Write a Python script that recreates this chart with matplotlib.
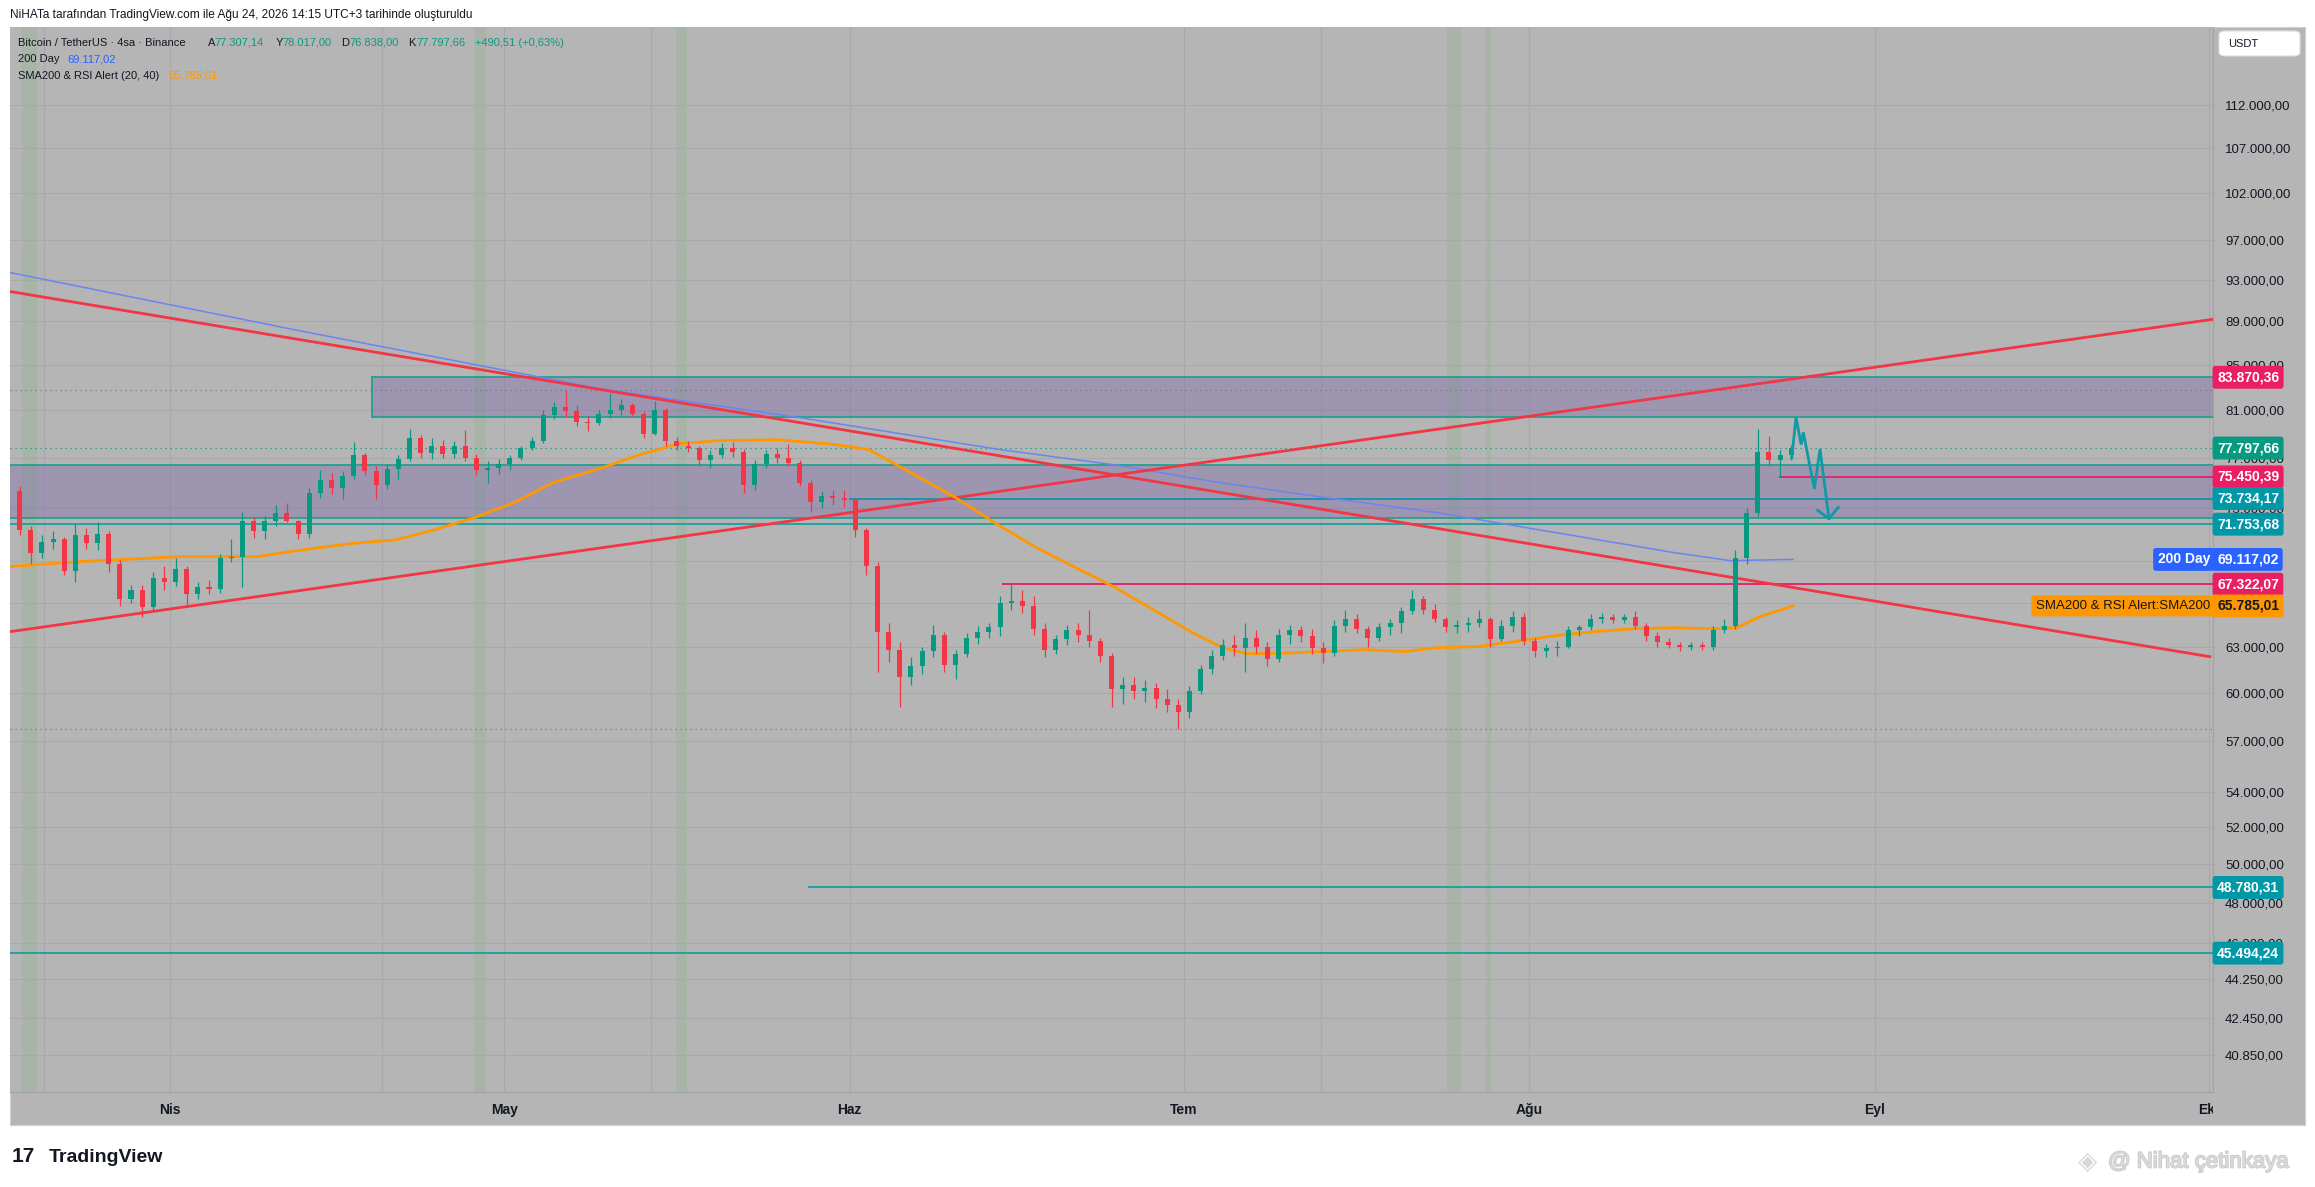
import matplotlib
matplotlib.use("Agg")
import matplotlib.pyplot as plt
import matplotlib.dates as mdates
import matplotlib.patheffects as pe
from matplotlib.patches import Rectangle, FancyBboxPatch
from matplotlib.ticker import FixedLocator, FuncFormatter, NullLocator
from matplotlib.transforms import blended_transform_factory
import numpy as np

plt.rcParams['font.family'] = ['Liberation Sans', 'DejaVu Sans']

# BTC/USDT daily candles, 18 Mar - 24 Aug 2026
first_day = "2026-03-18"
opens = [74300, 71300, 69600, 70400, 70600, 68300, 70900, 70300, 71000, 68800,
         66300, 66900, 65700, 67800, 67500, 68400, 66600, 67100, 67000, 69200,
         69300, 72000, 71200, 72000, 72600, 72000, 71000, 74200, 75200, 74600,
         75500, 77200, 75900, 74800, 76100, 76900, 78600, 77400, 78000, 77300,
         78000, 77000, 76000, 76200, 76500, 77000, 77800, 78400, 80600, 81300,
         80900, 80000, 79900, 80700, 81000, 81400, 80700, 79000, 81000, 78400,
         78000, 77800, 76800, 77200, 77800, 77500, 74800, 76500, 77300, 77000,
         76600, 75000, 73500, 73900, 73800, 73600, 71300, 68600, 64000, 62800,
         61000, 61700, 62700, 63800, 61800, 62500, 63600, 64000, 64300, 66000,
         66100, 65800, 64200, 62800, 63500, 64100, 63800, 63400, 62400, 60200,
         60500, 60100, 60300, 59600, 59200, 58800, 60100, 61500, 62400, 63100,
         62900, 63600, 63000, 62200, 63800, 64100, 63700, 62900, 62600, 64400,
         64900, 64200, 63600, 64300, 64600, 65400, 66300, 65500, 64900, 64300,
         64500, 64600, 64900, 63500, 64400, 65000, 63400, 62700, 62900, 63000,
         64100, 64300, 64900, 65000, 64800, 65000, 64400, 63700, 63300, 63100,
         63000, 63100, 63000, 64100, 64400, 69200, 72600, 77500, 76800, 77200]
highs = [74700, 71600, 70900, 71200, 70800, 71800, 71500, 71900, 71200, 69100,
         67300, 67300, 68200, 68600, 69200, 68600, 67500, 67600, 69500, 70600,
         72700, 72300, 72400, 73200, 73400, 72100, 74600, 76000, 75800, 75900,
         78300, 77400, 76300, 76500, 77200, 79400, 78900, 78600, 78500, 78400,
         79300, 77300, 76700, 76900, 77200, 78000, 78700, 81000, 81700, 82730,
         81400, 80500, 81000, 82500, 82000, 81600, 80900, 81800, 81200, 78700,
         78400, 78000, 77600, 78200, 78300, 77700, 76800, 77600, 77800, 78100,
         76800, 75200, 74300, 74400, 74400, 73800, 71500, 68900, 64600, 63300,
         62300, 63000, 64500, 64000, 62800, 63900, 64400, 64600, 66500, 67322,
         66900, 66500, 64600, 63800, 64500, 64600, 65500, 63600, 62600, 61000,
         61000, 60800, 60600, 60200, 59600, 60400, 61800, 62800, 63500, 63800,
         64600, 64100, 63300, 64200, 64500, 64400, 64200, 63300, 64800, 65500,
         65200, 64400, 64600, 64900, 65700, 66900, 66500, 65900, 65000, 64800,
         65000, 65500, 65000, 64800, 65400, 65300, 63600, 63200, 63400, 64400,
         64500, 65200, 65300, 65200, 65200, 65400, 64600, 64000, 63600, 63300,
         63300, 63300, 64400, 64900, 69800, 73000, 79400, 78800, 77600, 78017]
lows = [70900, 68800, 69200, 69900, 68000, 67500, 69900, 69800, 68200, 65800,
        66000, 65000, 65500, 66900, 67200, 65700, 66300, 66600, 66700, 68900,
        67100, 70700, 70600, 71600, 71900, 70600, 70700, 73800, 74100, 73700,
        75300, 75600, 73700, 74500, 75300, 76700, 77000, 76900, 77000, 77000,
        76700, 75600, 75000, 75700, 76000, 76800, 77600, 78200, 80200, 80400,
        79600, 79200, 79700, 80300, 80600, 80400, 78600, 78900, 78000, 77600,
        77500, 76300, 76200, 77000, 77100, 74200, 74400, 76200, 76600, 76300,
        74700, 72700, 73000, 73200, 73100, 70800, 68000, 61300, 62000, 59100,
        60500, 61200, 62300, 61300, 60900, 62300, 63200, 63600, 63700, 65500,
        65300, 63800, 62300, 62500, 63100, 63300, 63000, 62000, 59100, 59300,
        59600, 59400, 59000, 58800, 57740, 58400, 59900, 61200, 62100, 62400,
        61300, 62600, 61700, 62000, 63200, 63300, 62500, 61900, 62400, 64000,
        63900, 63000, 63400, 63800, 63900, 65200, 65200, 64700, 64000, 63900,
        64000, 64300, 63000, 63400, 64000, 63100, 62300, 62300, 62400, 62900,
        63700, 64100, 64600, 64600, 64600, 64200, 63400, 63000, 62900, 62700,
        62800, 62800, 62800, 63900, 64200, 68800, 72400, 76300, 75450, 76838]
closes = [71300, 69600, 70400, 70600, 68300, 70900, 70300, 71000, 68800, 66300,
          66900, 65700, 67800, 67500, 68400, 66600, 67100, 67000, 69200, 69300,
          72000, 71200, 72000, 72600, 72000, 71000, 74200, 75200, 74600, 75500,
          77200, 75900, 74800, 76100, 76900, 78600, 77400, 78000, 77300, 78000,
          77000, 76000, 76200, 76500, 77000, 77800, 78400, 80600, 81300, 80900,
          80000, 79900, 80700, 81000, 81400, 80700, 79000, 81000, 78400, 78000,
          77800, 76800, 77200, 77800, 77500, 74800, 76500, 77300, 77000, 76600,
          75000, 73500, 73900, 73800, 73600, 71300, 68600, 64000, 62800, 61000,
          61700, 62700, 63800, 61800, 62500, 63600, 64000, 64300, 66000, 66100,
          65800, 64200, 62800, 63500, 64100, 63800, 63400, 62400, 60200, 60500,
          60100, 60300, 59600, 59200, 58800, 60100, 61500, 62400, 63100, 62900,
          63600, 63000, 62200, 63800, 64100, 63700, 62900, 62600, 64400, 64900,
          64200, 63600, 64300, 64600, 65400, 66300, 65500, 64900, 64300, 64500,
          64600, 64900, 63500, 64400, 65000, 63400, 62700, 62900, 63000, 64100,
          64300, 64900, 65000, 64800, 65000, 64400, 63700, 63300, 63100, 63000,
          63100, 63000, 64100, 64400, 69200, 72600, 77500, 76800, 77200, 77797.66]

# indicators, x = days from 1 Apr 2026
day200_x = [-14.36, 11.67, 38.59, 56.54, 74.49, 84.72, 94.24, 103.12, 113.71,
            124.39, 134.98, 140.01, 145.67]
day200_y = [93740, 88110, 82860, 80350, 77670, 76430, 74990, 73880, 72640,
            71110, 69620, 69030, 69117.02]
sma200_x = [-14.26, -8.16, 0.72, 7.8, 11.4, 16.7, 20.2, 23.8, 27.3, 30.9, 34.4,
            38.6, 42.2, 45.65, 49.2, 54.5, 59.8, 62.7, 65.2, 70.5, 74.0, 77.6,
            81.1, 84.7, 88.25, 91.75, 94.5, 96.6, 99.5, 103.0, 107.3, 110.85,
            113.6, 117.2, 120.7, 124.3, 127.8, 131.4, 134.9, 138.5, 140.6, 142.7,
            145.67]
sma200_y = [68600, 68950, 69320, 69320, 69770, 70330, 70560, 71340, 72250, 73420,
            75000, 76130, 77260, 78160, 78410, 78490, 78080, 77670, 76430, 73810,
            71870, 70060, 68590, 67140, 65520, 63950, 62930, 62540, 62540, 62670,
            62800, 62670, 62930, 63000, 63340, 63740, 64010, 64210, 64280, 64210,
            64280, 65040, 65785.01]

# drawings (days from 1 Apr 2026)
down_trend = ([-14.36, 183.09], [91870, 62330])
up_trend = ([-14.36, 183.36], [64010, 89200])
upper_zone = (18.13, 80400, 83870.36)
lower_zone = (-15.0, 72200, 76390)
levels = {73734.17: 60.94, 71753.68: -15.0, 67322.07: 74.67, 75450.39: 144.4,
          48780.31: 57.26, 45494.24: -15.0}
path_x = [145.55, 145.94, 146.39, 146.59, 147.58, 148.09, 148.89]
path_y = [76980, 80400, 78080, 79100, 74490, 77720, 72180]
arrow_x = [147.88, 148.89, 149.73]
arrow_y = [72820, 72180, 73050]
green_bands = [(-13.28, -11.94), (27.3, 28.4), (45.4, 46.4), (114.6, 115.9),
               (118.1, 118.6)]
grid_days = [-11.35, 0, 19, 30, 43.2, 61, 91, 103.3, 122, 153, 183]
months = ["Nis", "May", "Haz", "Tem", "Ağu", "Eyl", "Eki"]
month_days = [0, 30, 61, 91, 122, 153, 183]
yticks = [112000, 107000, 102000, 97000, 93000, 89000, 85000, 81000, 77000,
          73000, 63000, 60000, 57000, 54000, 52000, 50000, 48000,
          46000, 44250, 42450, 40850]
hidden_grid = [69000, 66000]   # grid rows whose labels sit under price tags
high_line, low_line, last_price = 82730, 57740, 77797.66


def tr(v):
    s = f"{v:,.2f}"
    return s.replace(",", "X").replace(".", ",").replace("X", ".")


W, H = 2315, 1187
BG = '#b5b5b5'
DARK = '#131722'
UP, DOWN = '#089981', '#f23645'
TEAL = '#0097a7'
PINK = '#e91e63'
fig = plt.figure(figsize=(W / 100, H / 100), dpi=100, facecolor='white')


def fx(px):
    return px / W


def fy(py):
    return 1 - py / H


fig.patches.append(Rectangle((fx(10), fy(1125)), fx(2305) - fx(10), fy(26.6) - fy(1125),
                             transform=fig.transFigure, fc=BG, ec='#d0d0d0', lw=0.8, zorder=-1))

ax = fig.add_axes([fx(10), fy(1092), (2213 - 10) / W, (1092 - 26.6) / H])
ax.set_facecolor(BG)
base = mdates.datestr2num("2026-04-01")
ax.set_xlim(base - 14.36, base + 183.36)
ax.set_yscale('log')
ax.set_ylim(39255, 121727)

ax.yaxis.set_major_locator(FixedLocator(yticks))
ax.yaxis.set_minor_locator(NullLocator())
ax.yaxis.set_major_formatter(FuncFormatter(lambda v, p: tr(v)))
ax.yaxis.tick_right()
ax.tick_params(axis='y', length=0, pad=8.6, labelsize=9.5, labelcolor=DARK)
ax.set_xticks([base + d for d in grid_days])
ax.xaxis.set_minor_locator(NullLocator())
ax.tick_params(axis='x', length=0, labelbottom=False)
ax.grid(True, color='#a9a9a9', lw=0.8)
for g in hidden_grid:
    ax.axhline(g, color='#a9a9a9', lw=0.8, zorder=1.5)
for s in ['top', 'left']:
    ax.spines[s].set_visible(False)
for s in ['right', 'bottom']:
    ax.spines[s].set_color('#a2a2a2')
    ax.spines[s].set_linewidth(0.8)

xr = base + 190
# background alert bands
for a, b in green_bands:
    ax.axvspan(base + a, base + b, color='#4caf50', alpha=0.13, lw=0, zorder=1)

# zones
for x0, lo, hi in [upper_zone, lower_zone]:
    ax.add_patch(Rectangle((base + x0, lo), xr - base - x0, hi - lo, fc='#755ea9',
                           alpha=0.35, ec='none', zorder=1.6))
    ax.add_patch(Rectangle((base + x0, lo), xr - base - x0, hi - lo, fc='none',
                           ec='#22a08f', lw=1.3, zorder=3))

# horizontal levels
for lvl, start in levels.items():
    c = PINK if lvl in (67322.07, 75450.39) else ('#1592a8' if lvl == 73734.17 else '#17a0a0')
    ax.hlines(lvl, base + start, xr, colors=c, lw=1.3, zorder=3)
ax.axhline(high_line, color='#777777', lw=0.9, ls=(0, (1, 3)), zorder=2)
ax.axhline(low_line, color='#777777', lw=0.9, ls=(0, (1, 3)), zorder=2)
ax.axhline(last_price, color=UP, lw=0.9, ls=(0, (1, 3)), zorder=2)

# trend lines
ax.plot([base + d for d in down_trend[0]], down_trend[1], color='#f23645', lw=2.0, zorder=3.5)
ax.plot([base + d for d in up_trend[0]], up_trend[1], color='#f23645', lw=2.0, zorder=3.5)

# indicators
ax.plot([base + d for d in day200_x], day200_y, color='#6a85f2', lw=1.1, zorder=3.2)
ax.plot([base + d for d in sma200_x], sma200_y, color='#ff9800', lw=2.0, zorder=3.6)

# candles
o = np.array(opens, float)
h = np.array(highs, float)
l = np.array(lows, float)
c = np.array(closes, float)
cx = mdates.datestr2num(first_day) + 0.5 + np.arange(len(c))
cols = np.where(c >= o, UP, DOWN)
ax.vlines(cx, l, h, colors=cols, lw=0.9, zorder=4)
ax.bar(cx, np.maximum(np.abs(c - o), 60), bottom=np.minimum(o, c), width=0.45,
       color=cols, lw=0, zorder=4.5)

# projected path
ax.plot([base + d for d in path_x], path_y, color='#0f9aa6', lw=2.0, zorder=5,
        solid_joinstyle='miter')
ax.plot([base + d for d in arrow_x], arrow_y, color='#0f9aa6', lw=2.0, zorder=5)

# price labels on the scale
ytr = ax.get_yaxis_transform()


def price_label(v, fc, tc='white'):
    ax.text(1 + 4 / 2203, v, tr(v), transform=ytr, ha='left', va='center',
            fontsize=10, fontweight='bold', color=tc, clip_on=False, zorder=20,
            bbox=dict(boxstyle='round,pad=0.32,rounding_size=0.2', fc=fc, ec='none'))


price_label(83870.36, PINK)
price_label(last_price, UP)
price_label(75450.39, PINK)
price_label(73734.17, TEAL)
price_label(71753.68, TEAL)
price_label(69117.02, '#2962ff')
price_label(67322.07, PINK)
price_label(65785.01, '#ff9800', DARK)
price_label(48780.31, TEAL)
price_label(45494.24, TEAL)
ax.text(1 - 3 / 2203, 69117.02, "200 Day", transform=ytr, ha='right', va='center',
        fontsize=10, fontweight='bold', color='white', zorder=20,
        bbox=dict(boxstyle='round,pad=0.32,rounding_size=0.2', fc='#2962ff', ec='none'))
ax.text(1 - 3 / 2203, 65785.01, "SMA200 & RSI Alert:SMA200", transform=ytr, ha='right',
        va='center', fontsize=9.5, color=DARK, zorder=20,
        bbox=dict(boxstyle='round,pad=0.34,rounding_size=0.2', fc='#ff9800', ec='none'))

# month labels
xtr = blended_transform_factory(ax.transData, ax.transAxes)
clip = Rectangle((0, 0), fx(2213), 1, transform=fig.transFigure)
for name, d in zip(months, month_days):
    t = ax.text(base + d, -(1110 - 1092) / (1092 - 26.6), name, transform=xtr,
                ha='center', va='center', fontsize=10, fontweight='bold', color=DARK,
                clip_on=True)
    t.set_clip_path(clip)

# header and legend
fig.text(fx(10), fy(15), "NiHATa tarafından TradingView.com ile Ağu 24, 2026 14:15 UTC+3 "
         "tarihinde oluşturuldu", fontsize=8.6, color=DARK, va='center')
legend_parts = [
    (17.9, 42.7, "Bitcoin / TetherUS · 4sa · Binance", DARK),
    (207.6, 42.7, "A", DARK), (214, 42.7, "77.307,14", UP),
    (275.4, 42.7, "Y", DARK), (282, 42.7, "78.017,00", UP),
    (341.5, 42.7, "D", DARK), (349, 42.7, "76.838,00", UP),
    (408.5, 42.7, "K", DARK), (416, 42.7, "77.797,66", UP),
    (475.4, 42.7, "+490,51 (+0,63%)", UP),
    (17.9, 59.3, "200 Day", DARK), (67, 59.3, "69.117,02", '#2962ff'),
    (17.9, 76, "SMA200 & RSI Alert (20, 40)", DARK), (168.5, 76, "65.785,01", '#ff9800'),
]
for px, py, s, col in legend_parts:
    fig.text(fx(px), fy(py), s, fontsize=8, color=col, va='center')

# currency box
fig.patches.append(FancyBboxPatch((fx(2219), fy(56)), fx(2300) - fx(2219), fy(31) - fy(56),
                                  boxstyle='round,pad=0,rounding_size=0.003',
                                  transform=fig.transFigure, fc='white', ec='#e0e0e0',
                                  lw=0.8, zorder=5))
fig.text(fx(2228), fy(43.7), "USDT", fontsize=8, color=DARK, va='center', zorder=6)

# footer
fig.text(fx(12), fy(1157), "17", fontsize=15, fontweight='bold', color=DARK, va='center')
fig.text(fx(49), fy(1157), "TradingView", fontsize=14, fontweight='bold', color=DARK,
         va='center')
fig.text(fx(2088), fy(1162), "◈", fontsize=18, color='#d8d8d8', ha='center', va='center',
         family='DejaVu Sans')
fig.text(fx(2108), fy(1162), "@ Nihat çetinkaya", fontsize=16, color='#dadada', va='center',
         path_effects=[pe.withStroke(linewidth=1.2, foreground='#c8c8c8')])

fig.savefig("out.png", dpi=100, facecolor='white')
